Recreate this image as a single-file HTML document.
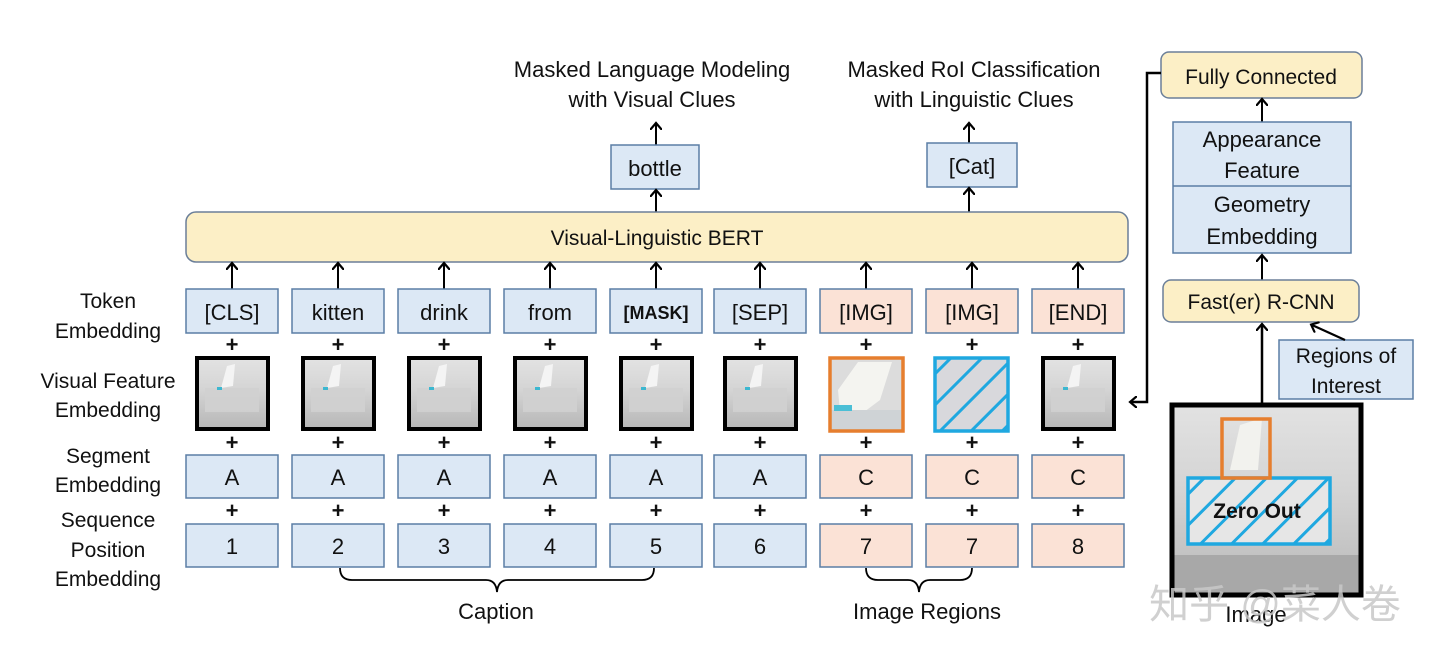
<!DOCTYPE html>
<html><head><meta charset="utf-8"><style>
html,body{margin:0;padding:0;background:#fff;width:1446px;height:660px;overflow:hidden}
svg text{font-family:"Liberation Sans","Noto Sans CJK SC",sans-serif;fill:#111}
</style></head><body>
<svg width="1446" height="660" viewBox="0 0 1446 660" xmlns="http://www.w3.org/2000/svg">
<defs>
<marker id="ah" markerWidth="12" markerHeight="12" refX="6" refY="6" orient="auto" markerUnits="userSpaceOnUse">
<path d="M0,0 L7,6 L0,12" fill="none" stroke="#000" stroke-width="2.2"/></marker>
<linearGradient id="img" x1="0" y1="0" x2="0" y2="1">
<stop offset="0" stop-color="#e2e2e2"/><stop offset="0.45" stop-color="#d4d4d4"/><stop offset="1" stop-color="#b8b8b8"/></linearGradient>
<pattern id="hatch" width="22" height="22" patternUnits="userSpaceOnUse" patternTransform="rotate(45)">
<rect width="22" height="22" fill="none"/><rect x="0" y="0" width="3" height="22" fill="#1fa8e0"/></pattern>
<g id="pic">
<rect x="0" y="0" width="67" height="67" fill="url(#img)"/>
<rect x="6" y="28" width="54" height="24" fill="#d0d0d0" opacity="0.9"/>
<path d="M22,28 L28,6 L36,4 L34,26 Z" fill="#f4f4f4"/>
<rect x="18" y="27" width="5" height="3" fill="#3cb7d0"/>
</g>
</defs>

<g font-size="22" text-anchor="middle">
<text x="652" y="77">Masked Language Modeling</text>
<text x="652" y="107">with Visual Clues</text>
<text x="974" y="77">Masked RoI Classification</text>
<text x="974" y="107">with Linguistic Clues</text>
</g>

<line x1="656" y1="145" x2="656" y2="124" stroke="#000" stroke-width="2" marker-end="url(#ah)"/>
<line x1="969" y1="143" x2="969" y2="124" stroke="#000" stroke-width="2" marker-end="url(#ah)"/>
<rect x="611" y="145" width="88" height="44" fill="#dce8f5" stroke="#5b7ea5" stroke-width="1.5"/>
<text x="655" y="176" font-size="22" text-anchor="middle">bottle</text>
<rect x="927" y="143" width="90" height="44" fill="#dce8f5" stroke="#5b7ea5" stroke-width="1.5"/>
<text x="972" y="174" font-size="22" text-anchor="middle">[Cat]</text>
<line x1="656" y1="212" x2="656" y2="191" stroke="#000" stroke-width="2" marker-end="url(#ah)"/>
<line x1="969" y1="212" x2="969" y2="189" stroke="#000" stroke-width="2" marker-end="url(#ah)"/>

<rect x="186" y="212" width="942" height="50" rx="10" fill="#fcefc6" stroke="#6b7f99" stroke-width="1.5"/>
<text x="657" y="245" font-size="21" text-anchor="middle">Visual-Linguistic BERT</text>

<g font-size="21" text-anchor="middle">
<text x="108" y="308">Token</text><text x="108" y="338">Embedding</text>
<text x="108" y="388">Visual Feature</text><text x="108" y="417">Embedding</text>
<text x="108" y="463">Segment</text><text x="108" y="492">Embedding</text>
<text x="108" y="527">Sequence</text><text x="108" y="557">Position</text><text x="108" y="586">Embedding</text>
</g>

<g font-size="22" text-anchor="middle" stroke-width="1.5">
<g transform="translate(232,0)">
<line x1="0" y1="289" x2="0" y2="264" stroke="#000" stroke-width="2" marker-end="url(#ah)"/>
<rect x="-46" y="289" width="92" height="44" fill="#dce8f5" stroke="#5b7ea5"/><text y="320">[CLS]</text>
<rect x="-46" y="455" width="92" height="43" fill="#dce8f5" stroke="#5b7ea5"/><text y="485">A</text>
<rect x="-46" y="524" width="92" height="43" fill="#dce8f5" stroke="#5b7ea5"/><text y="554">1</text>
</g>
<g transform="translate(338,0)">
<line x1="0" y1="289" x2="0" y2="264" stroke="#000" stroke-width="2" marker-end="url(#ah)"/>
<rect x="-46" y="289" width="92" height="44" fill="#dce8f5" stroke="#5b7ea5"/><text y="320">kitten</text>
<rect x="-46" y="455" width="92" height="43" fill="#dce8f5" stroke="#5b7ea5"/><text y="485">A</text>
<rect x="-46" y="524" width="92" height="43" fill="#dce8f5" stroke="#5b7ea5"/><text y="554">2</text>
</g>
<g transform="translate(444,0)">
<line x1="0" y1="289" x2="0" y2="264" stroke="#000" stroke-width="2" marker-end="url(#ah)"/>
<rect x="-46" y="289" width="92" height="44" fill="#dce8f5" stroke="#5b7ea5"/><text y="320">drink</text>
<rect x="-46" y="455" width="92" height="43" fill="#dce8f5" stroke="#5b7ea5"/><text y="485">A</text>
<rect x="-46" y="524" width="92" height="43" fill="#dce8f5" stroke="#5b7ea5"/><text y="554">3</text>
</g>
<g transform="translate(550,0)">
<line x1="0" y1="289" x2="0" y2="264" stroke="#000" stroke-width="2" marker-end="url(#ah)"/>
<rect x="-46" y="289" width="92" height="44" fill="#dce8f5" stroke="#5b7ea5"/><text y="320">from</text>
<rect x="-46" y="455" width="92" height="43" fill="#dce8f5" stroke="#5b7ea5"/><text y="485">A</text>
<rect x="-46" y="524" width="92" height="43" fill="#dce8f5" stroke="#5b7ea5"/><text y="554">4</text>
</g>
<g transform="translate(656,0)">
<line x1="0" y1="289" x2="0" y2="264" stroke="#000" stroke-width="2" marker-end="url(#ah)"/>
<rect x="-46" y="289" width="92" height="44" fill="#dce8f5" stroke="#5b7ea5"/><text y="319" font-weight="bold" font-size="18">[MASK]</text>
<rect x="-46" y="455" width="92" height="43" fill="#dce8f5" stroke="#5b7ea5"/><text y="485">A</text>
<rect x="-46" y="524" width="92" height="43" fill="#dce8f5" stroke="#5b7ea5"/><text y="554">5</text>
</g>
<g transform="translate(760,0)">
<line x1="0" y1="289" x2="0" y2="264" stroke="#000" stroke-width="2" marker-end="url(#ah)"/>
<rect x="-46" y="289" width="92" height="44" fill="#dce8f5" stroke="#5b7ea5"/><text y="320">[SEP]</text>
<rect x="-46" y="455" width="92" height="43" fill="#dce8f5" stroke="#5b7ea5"/><text y="485">A</text>
<rect x="-46" y="524" width="92" height="43" fill="#dce8f5" stroke="#5b7ea5"/><text y="554">6</text>
</g>
<g transform="translate(866,0)">
<line x1="0" y1="289" x2="0" y2="264" stroke="#000" stroke-width="2" marker-end="url(#ah)"/>
<rect x="-46" y="289" width="92" height="44" fill="#fbe2d6" stroke="#5b7ea5"/><text y="320">[IMG]</text>
<rect x="-46" y="455" width="92" height="43" fill="#fbe2d6" stroke="#5b7ea5"/><text y="485">C</text>
<rect x="-46" y="524" width="92" height="43" fill="#fbe2d6" stroke="#5b7ea5"/><text y="554">7</text>
</g>
<g transform="translate(972,0)">
<line x1="0" y1="289" x2="0" y2="264" stroke="#000" stroke-width="2" marker-end="url(#ah)"/>
<rect x="-46" y="289" width="92" height="44" fill="#fbe2d6" stroke="#5b7ea5"/><text y="320">[IMG]</text>
<rect x="-46" y="455" width="92" height="43" fill="#fbe2d6" stroke="#5b7ea5"/><text y="485">C</text>
<rect x="-46" y="524" width="92" height="43" fill="#fbe2d6" stroke="#5b7ea5"/><text y="554">7</text>
</g>
<g transform="translate(1078,0)">
<line x1="0" y1="289" x2="0" y2="264" stroke="#000" stroke-width="2" marker-end="url(#ah)"/>
<rect x="-46" y="289" width="92" height="44" fill="#fbe2d6" stroke="#5b7ea5"/><text y="320">[END]</text>
<rect x="-46" y="455" width="92" height="43" fill="#fbe2d6" stroke="#5b7ea5"/><text y="485">C</text>
<rect x="-46" y="524" width="92" height="43" fill="#fbe2d6" stroke="#5b7ea5"/><text y="554">8</text>
</g>
</g>

<g font-size="22" font-weight="bold" text-anchor="middle">
<text x="232" y="352">+</text><text x="338" y="352">+</text><text x="444" y="352">+</text><text x="550" y="352">+</text><text x="656" y="352">+</text><text x="760" y="352">+</text><text x="866" y="352">+</text><text x="972" y="352">+</text><text x="1078" y="352">+</text>
<text x="232" y="450">+</text><text x="338" y="450">+</text><text x="444" y="450">+</text><text x="550" y="450">+</text><text x="656" y="450">+</text><text x="760" y="450">+</text><text x="866" y="450">+</text><text x="972" y="450">+</text><text x="1078" y="450">+</text>
<text x="232" y="518">+</text><text x="338" y="518">+</text><text x="444" y="518">+</text><text x="550" y="518">+</text><text x="656" y="518">+</text><text x="760" y="518">+</text><text x="866" y="518">+</text><text x="972" y="518">+</text><text x="1078" y="518">+</text>
</g>

<g>
<use href="#pic" x="199" y="360"/><rect x="197" y="358" width="71" height="71" fill="none" stroke="#000" stroke-width="4"/>
<use href="#pic" x="305" y="360"/><rect x="303" y="358" width="71" height="71" fill="none" stroke="#000" stroke-width="4"/>
<use href="#pic" x="411" y="360"/><rect x="409" y="358" width="71" height="71" fill="none" stroke="#000" stroke-width="4"/>
<use href="#pic" x="517" y="360"/><rect x="515" y="358" width="71" height="71" fill="none" stroke="#000" stroke-width="4"/>
<use href="#pic" x="623" y="360"/><rect x="621" y="358" width="71" height="71" fill="none" stroke="#000" stroke-width="4"/>
<use href="#pic" x="727" y="360"/><rect x="725" y="358" width="71" height="71" fill="none" stroke="#000" stroke-width="4"/>
<use href="#pic" x="1045" y="360"/><rect x="1043" y="358" width="71" height="71" fill="none" stroke="#000" stroke-width="4"/>
<rect x="830" y="358" width="73" height="73" fill="#dcdcdc"/>
<path d="M838,390 L858,362 L892,362 L880,400 L860,415 L840,412 Z" fill="#f4f4f0"/>
<rect x="830" y="410" width="73" height="21" fill="#cfd3d6"/>
<rect x="834" y="405" width="18" height="6" fill="#4bbfd6"/>
<rect x="830" y="358" width="73" height="73" fill="none" stroke="#e67e2e" stroke-width="3.5"/>
<rect x="935" y="358" width="73" height="73" fill="#d8d8dc"/>
<rect x="935" y="358" width="73" height="73" fill="url(#hatch)"/>
<rect x="935" y="358" width="73" height="73" fill="none" stroke="#1fa8e0" stroke-width="3.5"/>
</g>

<path d="M340,568 Q340,580 352,580 L486,580 Q496,580 497,592 Q498,580 508,580 L642,580 Q654,580 654,568" fill="none" stroke="#000" stroke-width="1.8"/>
<path d="M866,568 Q866,580 878,580 L908,580 Q918,580 919,592 Q920,580 930,580 L960,580 Q972,580 972,568" fill="none" stroke="#000" stroke-width="1.8"/>
<text x="496" y="619" font-size="22" text-anchor="middle">Caption</text>
<text x="927" y="619" font-size="22" text-anchor="middle">Image Regions</text>

<rect x="1161" y="52" width="201" height="46" rx="8" fill="#fcefc6" stroke="#6b7f99" stroke-width="1.5"/>
<text x="1261" y="84" font-size="21" text-anchor="middle">Fully Connected</text>
<line x1="1262" y1="122" x2="1262" y2="100" stroke="#000" stroke-width="2" marker-end="url(#ah)"/>
<rect x="1173" y="122" width="178" height="131" fill="#dce8f5" stroke="#5b7ea5" stroke-width="1.5"/>
<line x1="1173" y1="186" x2="1351" y2="186" stroke="#5b7ea5" stroke-width="1.5"/>
<g font-size="22" text-anchor="middle">
<text x="1262" y="147">Appearance</text><text x="1262" y="178">Feature</text>
<text x="1262" y="212">Geometry</text><text x="1262" y="244">Embedding</text>
</g>
<line x1="1262" y1="280" x2="1262" y2="256" stroke="#000" stroke-width="2" marker-end="url(#ah)"/>
<rect x="1163" y="280" width="196" height="42" rx="8" fill="#fcefc6" stroke="#6b7f99" stroke-width="1.5"/>
<text x="1261" y="309" font-size="21" text-anchor="middle">Fast(er) R-CNN</text>
<rect x="1279" y="340" width="134" height="59" fill="#dce8f5" stroke="#5b7ea5" stroke-width="1.5"/>
<text x="1346" y="363" font-size="21" text-anchor="middle">Regions of</text>
<text x="1346" y="393" font-size="21" text-anchor="middle">Interest</text>
<line x1="1345" y1="340" x2="1312" y2="325" stroke="#000" stroke-width="2.2" marker-end="url(#ah)"/>
<line x1="1262" y1="404" x2="1262" y2="325" stroke="#000" stroke-width="2.5" marker-end="url(#ah)"/>
<polyline points="1161,73 1147,73 1147,402 1131,402" fill="none" stroke="#000" stroke-width="2.5" marker-end="url(#ah)"/>

<rect x="1172" y="405" width="189" height="190" fill="url(#img)"/>
<path d="M1230,470 L1240,425 L1262,418 L1258,470 Z" fill="#f2f2ee"/>
<rect x="1172" y="555" width="189" height="40" fill="#a8a8a8"/>
<rect x="1188" y="478" width="142" height="66" fill="#e6e6e6"/>
<rect x="1188" y="478" width="142" height="66" fill="url(#hatch)"/>
<rect x="1188" y="478" width="142" height="66" fill="none" stroke="#1fa8e0" stroke-width="3.5"/>
<rect x="1222" y="419" width="48" height="59" fill="none" stroke="#e67e2e" stroke-width="3.5"/>
<rect x="1172" y="405" width="189" height="190" fill="none" stroke="#000" stroke-width="5"/>
<text x="1257" y="518" font-size="21" font-weight="bold" text-anchor="middle">Zero Out</text>
<text x="1256" y="622" font-size="22" text-anchor="middle">Image</text>
<text x="1275" y="618" font-size="40" text-anchor="middle" style="fill:#c8c8c8" opacity="0.85">知乎 @菜人卷</text>
</svg>
</body></html>
